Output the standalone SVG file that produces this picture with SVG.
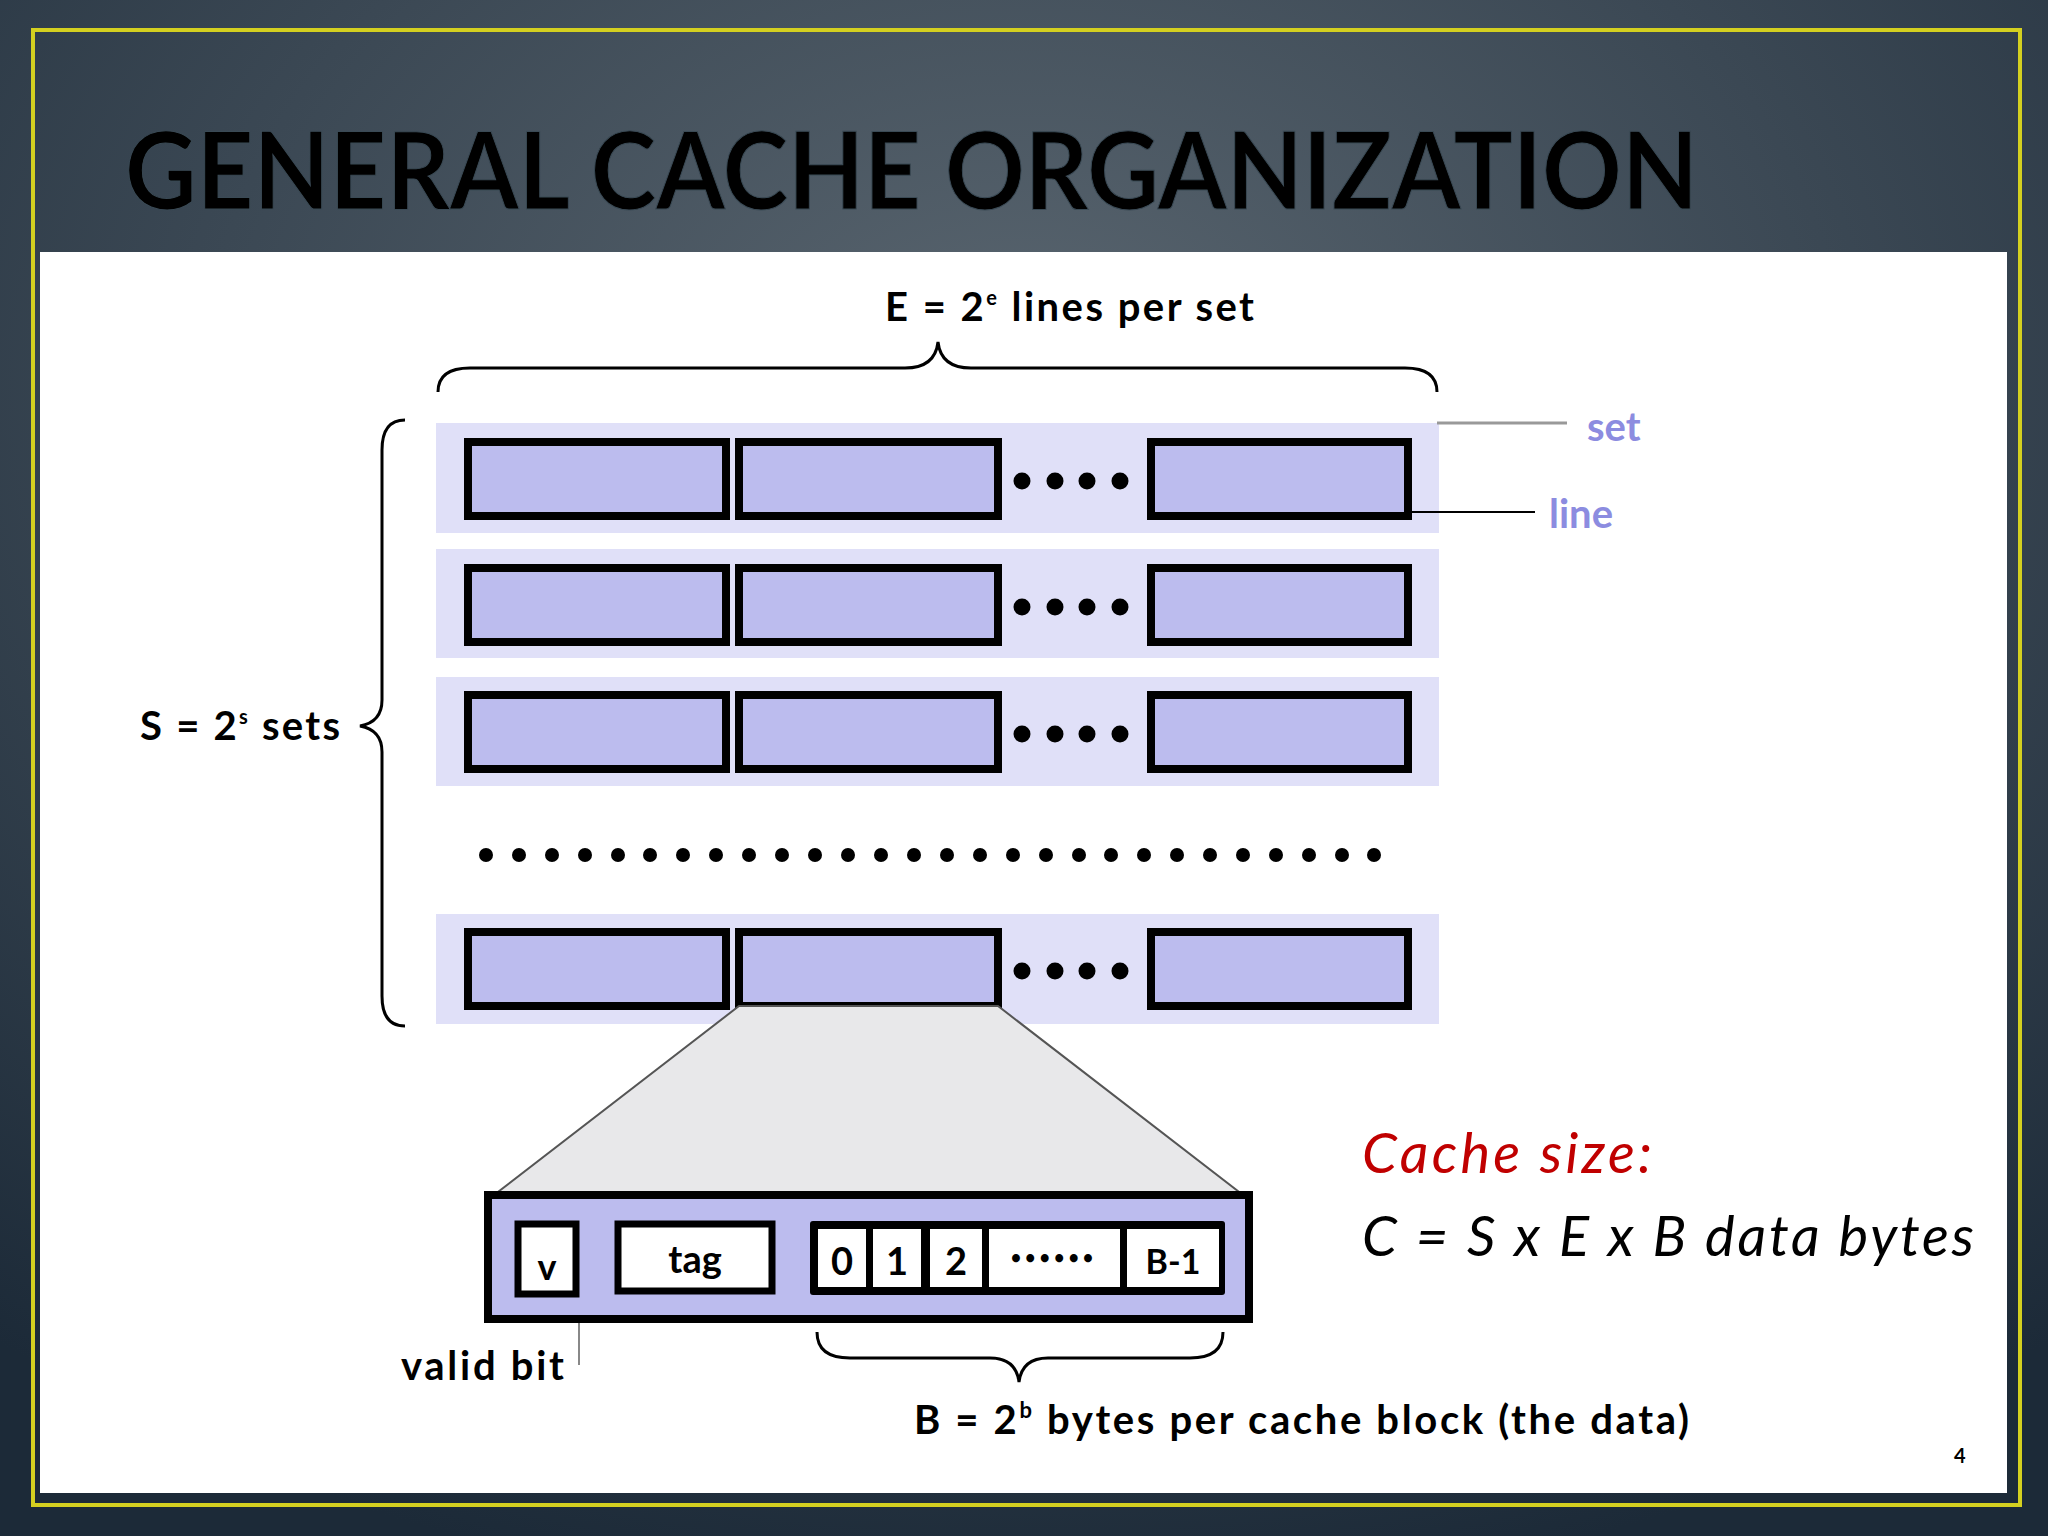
<svg xmlns="http://www.w3.org/2000/svg" width="2048" height="1536" viewBox="0 0 2048 1536">
<defs>
<radialGradient id="bg" cx="50%" cy="25%" r="80%"><stop offset="0" stop-color="#5a6670"/><stop offset="1" stop-color="#1c2a38"/></radialGradient>
<style>
.t{font-family:Lato,"Open Sans",sans-serif;fill:#000}
.row{fill:#e0e0f8}
.ln{fill:#bcbcee;stroke:#000;stroke-width:8}
.wb{fill:#fff;stroke:#000;stroke-width:7}
.br{fill:none;stroke:#000;stroke-width:3}
</style>
</defs>
<rect width="2048" height="1536" fill="url(#bg)"/>
<rect x="33" y="30" width="1987" height="1475" fill="none" stroke="#d4d020" stroke-width="4"/>
<rect x="40" y="252" width="1967" height="1241" fill="#fff"/>
<text x="125" y="209" class="t" font-size="108" font-weight="bold" textLength="1573" lengthAdjust="spacingAndGlyphs" fill="#000" stroke="#3a4a55" stroke-width="1">GENERAL CACHE ORGANIZATION</text>

<g id="sets">
<rect class="row" x="436" y="423" width="1003" height="110"/>
<rect class="row" x="436" y="549" width="1003" height="109"/>
<rect class="row" x="436" y="677" width="1003" height="109"/>
<rect class="row" x="436" y="914" width="1003" height="110"/>
<g id="r1"><rect class="ln" x="468" y="442" width="258" height="74"/><rect class="ln" x="739" y="442" width="259" height="74"/><rect class="ln" x="1151" y="442" width="257" height="74"/>
<circle cx="1022" cy="481" r="8.5"/><circle cx="1055" cy="481" r="8.5"/><circle cx="1087" cy="481" r="8.5"/><circle cx="1120" cy="481" r="8.5"/></g>
<use href="#r1" y="126"/>
<use href="#r1" y="253"/>
<use href="#r1" y="490"/>
</g>
<g id="middots" fill="#000">
<circle cx="486" cy="855" r="7"/><circle cx="519" cy="855" r="7"/><circle cx="552" cy="855" r="7"/><circle cx="585" cy="855" r="7"/><circle cx="618" cy="855" r="7"/><circle cx="650" cy="855" r="7"/><circle cx="683" cy="855" r="7"/><circle cx="716" cy="855" r="7"/><circle cx="749" cy="855" r="7"/><circle cx="782" cy="855" r="7"/><circle cx="815" cy="855" r="7"/><circle cx="848" cy="855" r="7"/><circle cx="881" cy="855" r="7"/><circle cx="914" cy="855" r="7"/><circle cx="947" cy="855" r="7"/><circle cx="980" cy="855" r="7"/><circle cx="1013" cy="855" r="7"/><circle cx="1046" cy="855" r="7"/><circle cx="1079" cy="855" r="7"/><circle cx="1111" cy="855" r="7"/><circle cx="1144" cy="855" r="7"/><circle cx="1177" cy="855" r="7"/><circle cx="1210" cy="855" r="7"/><circle cx="1243" cy="855" r="7"/><circle cx="1276" cy="855" r="7"/><circle cx="1309" cy="855" r="7"/><circle cx="1342" cy="855" r="7"/><circle cx="1374" cy="855" r="7"/>
</g>

<g id="connectors">
<path class="br" d="M438 392 Q438 368 470 368 L905 368 Q935 368 938 342 Q941 368 971 368 L1405 368 Q1437 368 1437 392"/>
<path class="br" d="M405 420 Q382 420 382 450 L382 700 Q382 722 360 726 Q382 730 382 752 L382 996 Q382 1026 405 1026"/>
<path class="br" d="M817 1332 Q817 1358 850 1358 L990 1358 Q1016 1358 1019 1382 Q1022 1358 1048 1358 L1190 1358 Q1223 1358 1223 1332"/>
<line x1="1437" y1="423" x2="1567" y2="423" stroke="#999" stroke-width="3"/>
<line x1="1410" y1="512" x2="1535" y2="512" stroke="#000" stroke-width="2"/>
<line x1="579" y1="1297" x2="579" y2="1365" stroke="#888" stroke-width="2"/>
</g>

<g id="zoom">
<polygon points="739,1006 998,1006 1243,1195 494,1195" fill="#e8e8ea" stroke="#555" stroke-width="2"/>
</g>
<g id="bigline">
<rect x="488" y="1195" width="761" height="124" fill="#bcbcee" stroke="#000" stroke-width="8"/>
<rect class="wb" x="518" y="1224" width="58" height="70"/>
<rect class="wb" x="618" y="1224" width="154" height="67"/>
<rect x="810" y="1221" width="415" height="74" fill="#000" rx="3"/>
<rect x="818" y="1229" width="48" height="58" fill="#fff"/>
<rect x="873" y="1229" width="48" height="58" fill="#fff"/>
<rect x="930" y="1229" width="52" height="58" fill="#fff"/>
<rect x="989" y="1229" width="131" height="58" fill="#fff"/>
<rect x="1127" y="1229" width="92" height="58" fill="#fff"/>
<text class="t" x="547" y="1280" font-size="36" text-anchor="middle" font-weight="bold">v</text>
<text class="t" x="695" y="1273" font-size="38" text-anchor="middle" font-weight="bold">tag</text>
<text class="t" x="842" y="1275" font-size="38" text-anchor="middle" font-weight="bold">0</text>
<text class="t" x="897" y="1275" font-size="38" text-anchor="middle" font-weight="bold">1</text>
<text class="t" x="956" y="1275" font-size="38" text-anchor="middle" font-weight="bold">2</text>
<text class="t" x="1054" y="1264" font-size="18" text-anchor="middle" font-weight="bold" letter-spacing="4">••••••</text>
<text class="t" x="1173" y="1274" font-size="34" text-anchor="middle" font-weight="bold">B-1</text>
</g>

<g id="labels">
<text class="t" x="885" y="321" font-size="40" font-weight="bold" textLength="369">E = 2<tspan font-size="20" dy="-16">e</tspan><tspan dy="16"> lines per set</tspan></text>
<text class="t" x="140" y="740" font-size="40" font-weight="bold" textLength="200">S = 2<tspan font-size="20" dy="-16">s</tspan><tspan dy="16"> sets</tspan></text>
<text class="t" x="1587" y="441" font-size="40" font-weight="bold" style="fill:#8c8ce0">set</text>
<text class="t" x="1549" y="528" font-size="40" font-weight="bold" style="fill:#8c8ce0">line</text>
<text class="t" x="401" y="1380" font-size="40" font-weight="bold" textLength="163">valid bit</text>
<text class="t" x="914" y="1434" font-size="40" font-weight="bold" textLength="775">B = 2<tspan font-size="22" dy="-16">b</tspan><tspan dy="16"> bytes per cache block (the data)</tspan></text>
<text class="t" x="1362" y="1173" font-size="56" font-style="italic" textLength="290" style="fill:#c00000">Cache size:</text>
<text class="t" x="1362" y="1256" font-size="56" font-style="italic" textLength="612">C = S x E x B data bytes</text>
<text class="t" x="1954" y="1463" font-size="20" font-weight="bold">4</text>
</g>
</svg>
